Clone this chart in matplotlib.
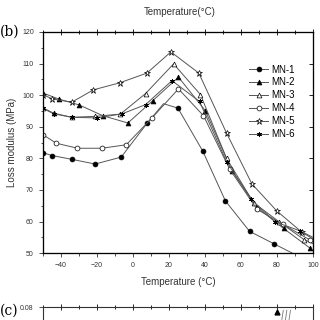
import matplotlib
matplotlib.use("Agg")
import matplotlib.pyplot as plt
from matplotlib.ticker import MultipleLocator

plt.rcParams['font.family'] = ['Liberation Sans', 'DejaVu Sans']

# data (temperature in C, loss modulus in MPa)
t_mn1 = [-50, -45, -34, -21, -6.5, 8, 17, 25, 38.7, 51.4, 64.8, 78.5, 92]
v_mn1 = [81.8, 80.9, 79.7, 78.2, 80.4, 91.2, 97.3, 95.9, 82.4, 66.5, 56.9, 52.9, 49]
m_mn1 = [0, 1, 2, 3, 4, 5, 7, 8, 9, 10, 11]

t_mn2 = [-50, -41.3, -29.8, -16.7, -2.8, 11.1, 25.3, 40.2, 55, 69, 83.7, 98.1]
v_mn2 = [100.7, 98.8, 96.9, 93.5, 91.2, 98.3, 105.7, 95.1, 76.1, 64.5, 57.8, 51.7]

t_mn3 = [-50, -44, -34, -21, -7, 7, 22.6, 37.5, 52, 67, 81, 95, 100]
v_mn3 = [96, 94.3, 93, 93.3, 94, 100.5, 109.9, 100.2, 80, 66, 60, 54.3, 53]
m_mn3 = list(range(12))

t_mn4 = [-50, -42.6, -30.8, -17.2, -3.7, 10.6, 25.3, 39.2, 53.7, 68.9, 83.3, 98.5]
v_mn4 = [87.5, 84.8, 83.2, 83.2, 84.3, 92.8, 102, 93.5, 76.6, 63.9, 59.1, 54.1]

t_mn5 = [-50, -44.7, -33.9, -21.9, -7.4, 7.8, 21.1, 36.6, 52, 66.1, 80, 93.9, 100]
v_mn5 = [100.2, 98.8, 97.8, 101.7, 103.9, 107, 113.7, 107, 88, 71.9, 63.3, 56.6, 54.5]
m_mn5 = list(range(12))

t_mn6 = [-50, -44, -34, -20, -6, 7, 21.7, 37, 52, 65.6, 79, 93, 100]
v_mn6 = [95.8, 94.1, 93, 92.8, 94.1, 97, 104.6, 98, 79, 67, 59.9, 57, 55]
m_mn6 = list(range(12))

series = [
    ("MN-1", t_mn1, v_mn1, m_mn1, 'o', 'black'),
    ("MN-2", t_mn2, v_mn2, None, '^', 'black'),
    ("MN-3", t_mn3, v_mn3, m_mn3, '^', 'white'),
    ("MN-4", t_mn4, v_mn4, None, 'o', 'white'),
    ("MN-5", t_mn5, v_mn5, m_mn5, '*', 'white'),
    ("MN-6", t_mn6, v_mn6, m_mn6, (6, 2, 0), 'white'),
]

fig = plt.figure(figsize=(3.2, 3.2), dpi=100)
ax = fig.add_axes([0.134, 0.209, 0.844, 0.691])

for name, t, v, mk, marker, fc in series:
    ms = 4.5 if marker == '*' else 3.5
    ax.plot(t, v, color='#555555', lw=0.7, marker=marker, ms=ms,
            mfc=fc, mec='black', mew=0.5, markevery=mk, label=name)

ax.set_xlim(-50, 100)
ax.set_ylim(50, 120)
ax.xaxis.set_major_locator(MultipleLocator(20))
ax.xaxis.set_minor_locator(MultipleLocator(10))
ax.yaxis.set_major_locator(MultipleLocator(10))
ax.yaxis.set_minor_locator(MultipleLocator(5))
ax.tick_params(which='both', labelsize=5, colors='#333333', width=0.6)
ax.tick_params(which='major', length=3)
ax.tick_params(which='minor', length=1.8)
for s in ax.spines.values():
    s.set_linewidth(0.8)
    s.set_color('#333333')

# inward ticks on right, crossing ticks on top
ax2 = ax.twinx()
ax2.set_ylim(50, 120)
ax2.yaxis.set_major_locator(MultipleLocator(10))
ax2.tick_params(axis='y', direction='in', length=3, width=0.6, labelright=False)
ax3 = ax.twiny()
ax3.set_xlim(-50, 100)
ax3.xaxis.set_major_locator(MultipleLocator(20))
ax3.xaxis.set_minor_locator(MultipleLocator(10))
ax3.tick_params(axis='x', which='both', direction='inout', labeltop=False, width=0.6)
ax3.tick_params(axis='x', which='major', length=4)
ax3.tick_params(axis='x', which='minor', length=2.5)

ax.set_xlabel('Temperature (°C)', fontsize=7, color='#333333', labelpad=6)
ax.set_ylabel('Loss modulus (MPa)', fontsize=7, color='#333333', labelpad=4)

ax.legend(loc='upper left', bbox_to_anchor=(0.745, 0.875), frameon=False,
          fontsize=7, handlelength=2.0, handletextpad=0.3, labelspacing=0.3,
          borderpad=0)

fig.text(0.5625, 0.9625, 'Temperature(°C)', fontsize=7, color='#333333',
         ha='center', va='center')
fig.text(0.0, 0.9, '(b)', fontsize=10, family='DejaVu Serif', va='center')

# top of panel (c), mostly cut off
axc = fig.add_axes([0.134, -0.5, 0.844, 0.5406])
axc.set_xlim(-50, 100)
axc.set_ylim(0.0, 0.08)
axc.xaxis.set_major_locator(MultipleLocator(20))
axc.xaxis.set_minor_locator(MultipleLocator(10))
axc.tick_params(axis='x', which='both', bottom=False, labelbottom=False,
                top=True, direction='inout', width=0.6)
axc.tick_params(axis='x', which='major', length=4)
axc.tick_params(axis='x', which='minor', length=2.5)
axc.set_yticks([0.08])
axc.set_yticklabels(['0.08'])
axc.tick_params(axis='y', labelsize=5, colors='#333333', length=3, width=0.6)
for s in axc.spines.values():
    s.set_linewidth(0.8)
    s.set_color('#333333')
c_t = [82, 84, 86]
axc.plot([80], [0.0775], marker='^', color='black', ms=3.5, ls='none')
for tc in c_t:
    axc.plot([tc, tc + 1.5], [0.070, 0.0785], color='#777777', lw=0.6)
fig.text(0.0, 0.028, '(c)', fontsize=10, family='DejaVu Serif', va='center')

fig.savefig('out.png', dpi=100)
